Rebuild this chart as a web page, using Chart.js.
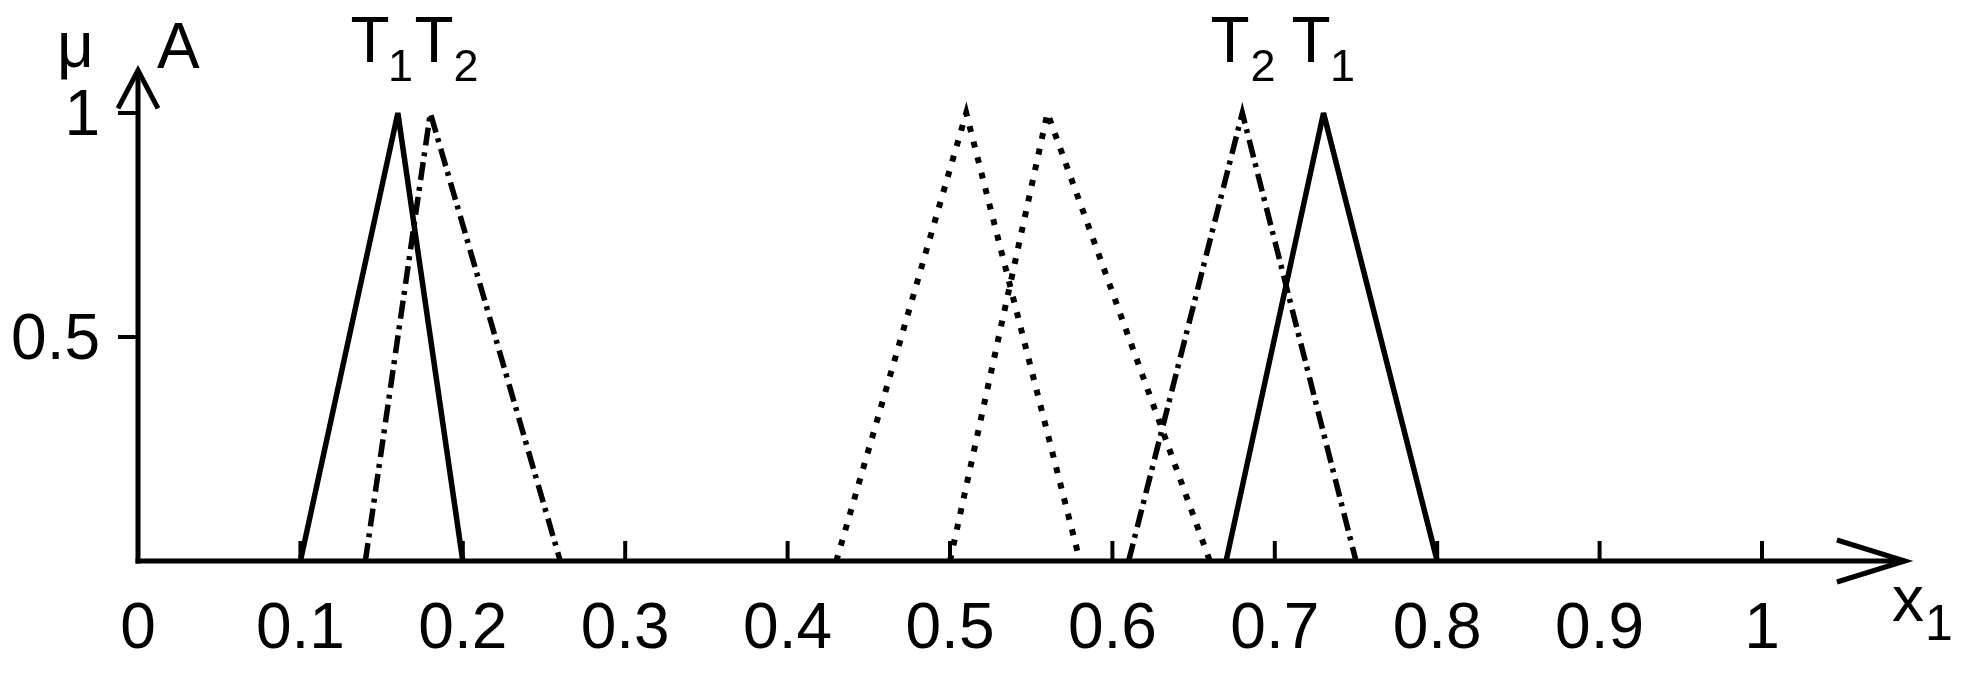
<!DOCTYPE html>
<html>
<head>
<meta charset="utf-8">
<script src="https://cdn.jsdelivr.net/npm/chart.js@4.4.1/dist/chart.umd.min.js"></script>
<style>
  html, body { margin: 0; padding: 0; background: #fff; }
  canvas { display: block; }
</style>
</head>
<body>
<canvas id="chart" width="1977" height="681"></canvas>
<script>
// membership of the three corners of every triangle
const membership = [0, 1, 0];

// x positions of the triangle corners (left foot, peak, right foot)
const t1Left = [0.10, 0.16, 0.20];
const t2Left = [0.14, 0.18, 0.26];
const aLeft = [0.43, 0.51, 0.58];
const aRight = [0.50, 0.56, 0.66];
const t2Right = [0.61, 0.68, 0.75];
const t1Right = [0.67, 0.73, 0.80];

// axis ticks
const xTicks = [0, 0.1, 0.2, 0.3, 0.4, 0.5, 0.6, 0.7, 0.8, 0.9, 1];
const xTickLabels = ['0', '0.1', '0.2', '0.3', '0.4', '0.5', '0.6', '0.7', '0.8', '0.9', '1'];
const yTicks = [0.5, 1];
const yTickLabels = ['0.5', '1'];

const FONT = '"Liberation Sans", Arial, Helvetica, sans-serif';

const toPoints = (xs) => xs.map((x, i) => ({ x, y: membership[i] }));

const solid = [];
const dashDot = [18, 6, 4, 7];
const dotted = [6, 10];

const makeSet = (xs, dash, join, width) => ({
    data: toPoints(xs),
    borderColor: '#000',
    borderWidth: width,
    borderDash: dash,
    borderJoinStyle: join,
    pointRadius: 0,
    tension: 0,
    fill: false,
    clip: false
});

// axes, arrows, ticks and the text around the plot
const axesPlugin = {
    id: 'axesPlugin',
    afterDatasetsDraw(chart) {
        const ctx = chart.ctx;
        const x = chart.scales.x;
        const y = chart.scales.y;
        const x0 = x.getPixelForValue(0);
        const y0 = y.getPixelForValue(0);
        const yTop = y.getPixelForValue(1.095);
        const xEnd = x.getPixelForValue(1.088);

        ctx.save();
        ctx.strokeStyle = '#000';
        ctx.fillStyle = '#000';
        ctx.lineCap = 'butt';
        ctx.lineJoin = 'miter';
        ctx.lineWidth = 5;

        // y axis with open arrow
        ctx.beginPath();
        ctx.moveTo(x0, y0 + 2.5);
        ctx.lineTo(x0, yTop);
        ctx.stroke();
        ctx.beginPath();
        ctx.moveTo(x0 - 20, yTop + 38);
        ctx.lineTo(x0, yTop);
        ctx.lineTo(x0 + 20, yTop + 38);
        ctx.stroke();

        // x axis with open arrow
        ctx.beginPath();
        ctx.moveTo(x0 - 2.5, y0);
        ctx.lineTo(xEnd, y0);
        ctx.stroke();
        ctx.beginPath();
        ctx.moveTo(xEnd - 68, y0 - 21);
        ctx.lineTo(xEnd, y0);
        ctx.lineTo(xEnd - 68, y0 + 21);
        ctx.stroke();

        // ticks
        ctx.lineWidth = 4;
        xTicks.forEach((v) => {
            if (v === 0) return;
            const px = x.getPixelForValue(v);
            ctx.beginPath();
            ctx.moveTo(px, y0);
            ctx.lineTo(px, y0 - 20);
            ctx.stroke();
        });
        yTicks.forEach((v) => {
            const py = y.getPixelForValue(v);
            ctx.beginPath();
            ctx.moveTo(x0, py);
            ctx.lineTo(x0 - 20, py);
            ctx.stroke();
        });

        // tick labels
        ctx.font = '64px ' + FONT;
        ctx.textBaseline = 'alphabetic';
        ctx.textAlign = 'center';
        xTicks.forEach((v, i) => {
            ctx.fillText(xTickLabels[i], x.getPixelForValue(v), y0 + 87);
        });
        ctx.textAlign = 'right';
        yTicks.forEach((v, i) => {
            ctx.fillText(yTickLabels[i], 100, y.getPixelForValue(v) + 22);
        });

        // axis names
        ctx.textAlign = 'left';
        ctx.font = '64px ' + FONT;
        ctx.fillText('μ', 57, 67);
        ctx.fillText('A', 157, 68);
        ctx.fillText('x', 1892, 621);
        ctx.font = '50px ' + FONT;
        ctx.fillText('1', 1925, 640);

        // term labels with subscripts
        const term = (tx, sub, sx) => {
            ctx.font = '64px ' + FONT;
            ctx.fillText('T', tx, 62);
            ctx.font = '45px ' + FONT;
            ctx.fillText(sub, sx, 81);
        };
        term(350.5, '1', 388);
        term(414.5, '2', 453.5);
        term(1210.5, '2', 1250.5);
        term(1291.5, '1', 1330);

        ctx.restore();
    }
};

new Chart(document.getElementById('chart'), {
    type: 'line',
    data: {
        datasets: [
            makeSet(t1Left, solid, 'bevel', 5.5),
            makeSet(t2Left, dashDot, 'miter', 5.5),
            makeSet(aLeft, dotted, 'miter', 6),
            makeSet(aRight, dotted, 'miter', 6),
            makeSet(t2Right, dashDot, 'miter', 5.5),
            makeSet(t1Right, solid, 'bevel', 5.5)
        ]
    },
    options: {
        responsive: false,
        devicePixelRatio: 1,
        animation: false,
        layout: {
            padding: { left: 138, right: 52.6, top: 68.2, bottom: 120 }
        },
        scales: {
            x: { type: 'linear', min: 0, max: 1.1, display: false },
            y: { type: 'linear', min: 0, max: 1.1, display: false }
        },
        plugins: {
            legend: { display: false },
            tooltip: { enabled: false }
        }
    },
    plugins: [axesPlugin]
});
</script>
</body>
</html>
